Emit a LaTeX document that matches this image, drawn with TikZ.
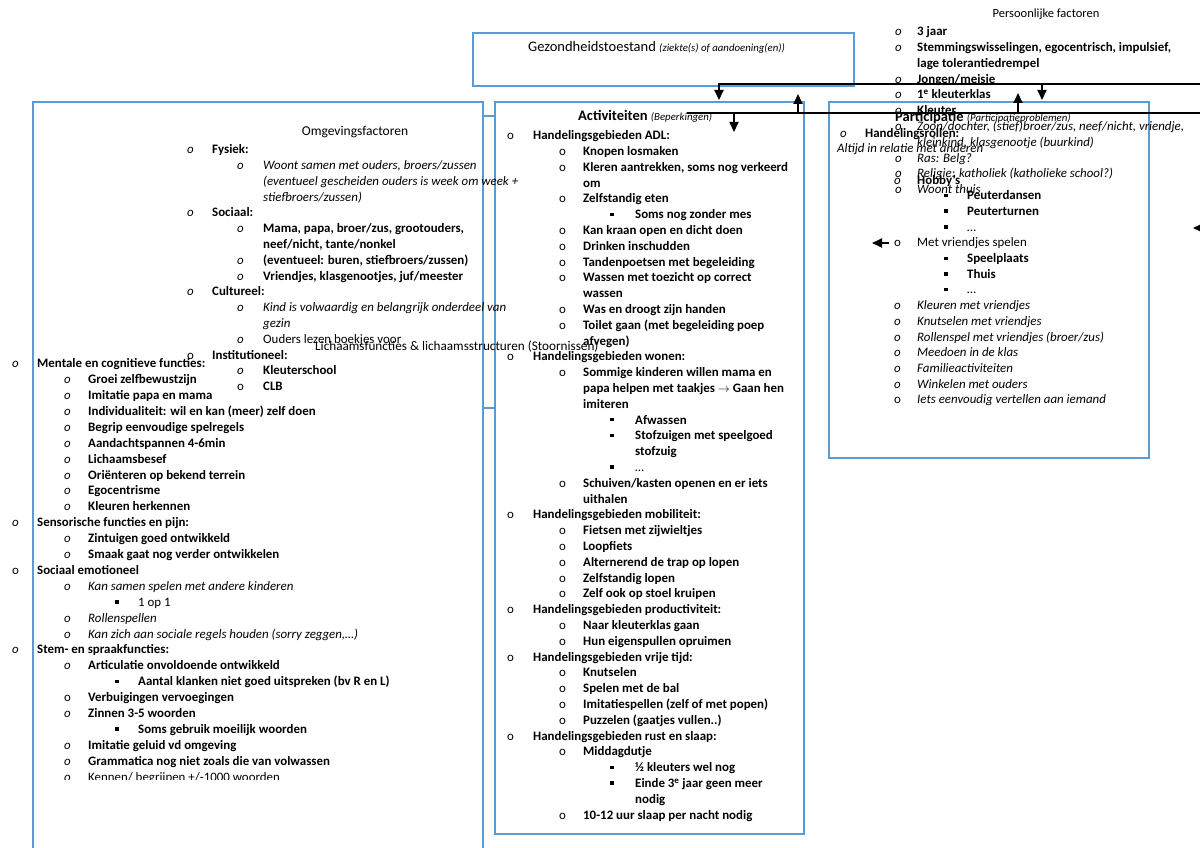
\documentclass[tikz,border=0pt]{standalone}
\usepackage{fontspec}
\setmainfont{Carlito}
\usetikzlibrary{arrows.meta,positioning}
\definecolor{boxblue}{HTML}{5B9BD5}
% one list line: bullet at #1, text at #2
\newcommand{\litem}[4]{\hspace*{#1pt}\rlap{#3}\hspace*{\dimexpr #2pt-#1pt\relax}#4\strut}
\newcommand{\lcont}[2]{\hspace*{#1pt}#2\strut}
\newcommand{\bo}{{\mdseries\itshape o}}
\newcommand{\bu}{{\mdseries o}}
\newcommand{\bsq}{\rule[2.6pt]{3.4pt}{3.4pt}}
\newcommand{\lgt}[1]{{\mdseries\itshape #1}}
\newcommand{\rgl}[1]{{\mdseries #1}}
\newcommand{\sub}[1]{{\mdseries\itshape\fontsize{10.8}{12}\selectfont #1}}

\begin{document}
\begin{tikzpicture}[x=1pt,y=-1pt]
\tikzset{bx/.style={draw=boxblue, line width=2pt, anchor=north west, inner sep=0pt}}
\tikzset{lst/.style={align=left, anchor=north west, inner sep=0pt, font=\fontsize{12.9}{15.8}\selectfont\bfseries}}
\tikzset{ttl/.style={inner sep=0pt, anchor=base west, font=\fontsize{14.5}{17}\selectfont}}
\tikzset{ln/.style={draw=black, line width=1.8pt}}
\tikzset{ar/.style={ln, -{Triangle[length=10pt,width=9pt]}}}

\useasboundingbox (0,0) rectangle (1200,848);
\clip (0,0) rectangle (1200,848);

% boxes
\node [bx, minimum width=381pt, minimum height=53pt] (gez) at (472,32) {};
\node [bx, minimum width=450pt, minimum height=780pt] (omg) at (32,101) {};
\node [bx, minimum width=309pt, minimum height=732pt] (act) at (494,101) {};
\node [bx, minimum width=320pt, minimum height=356pt] (par) at (828,101) {};
\draw [boxblue, line width=2pt] ([yshift=-15pt]omg.north east) -- ([yshift=-15pt]act.north west);
\draw [boxblue, line width=2pt] ([yshift=-307pt]omg.north east) -- ([yshift=-307pt]act.north west);

% titles
\node [ttl] (gezt) at (528,52) {Gezondheidstoestand \sub{(ziekte(s) of aandoening(en))}};
\node [ttl, anchor=base, font=\fontsize{13.5}{16}\selectfont] (omgt) at (355,136) {Omgevingsfactoren};
\node [ttl, font=\fontsize{13.2}{15}\selectfont] (licht) at (315,350.5) {Lichaamsfuncties \& lichaamsstructuren (Stoornissen)};
\node [ttl] (actt) at (578,121) {\bfseries Activiteiten \sub{(Beperkingen)}};
\node [ttl] (part) at (895,122) {\bfseries Participatie \sub{(Participatieproblemen)}};
\node [ttl, anchor=base, font=\fontsize{12.5}{15}\selectfont] (perst) at (1046,17.5) {Persoonlijke factoren};

% omgevingsfactoren
\node [lst] (omgl) at (187,142.4) {
\litem{0}{25}{\bo}{Fysiek:}\\
\litem{50}{76}{\bo}{\lgt{Woont samen met ouders, broers/zussen}}\\
\lcont{76}{\lgt{(eventueel gescheiden ouders is week om week +}}\\
\lcont{76}{\lgt{stiefbroers/zussen)}}\\
\litem{0}{25}{\bo}{Sociaal:}\\
\litem{50}{76}{\bo}{Mama, papa, broer/zus, grootouders,}\\
\lcont{76}{neef/nicht, tante/nonkel}\\
\litem{50}{76}{\bo}{(eventueel: buren, stiefbroers/zussen)}\\
\litem{50}{76}{\bo}{Vriendjes, klasgenootjes, juf/meester}\\
\litem{0}{25}{\bo}{Cultureel:}\\
\litem{50}{76}{\bo}{\lgt{Kind is volwaardig en belangrijk onderdeel van}}\\
\lcont{76}{\lgt{gezin}}\\
\litem{50}{76}{\bo}{\rgl{Ouders lezen boekjes voor}}\\
\litem{0}{25}{\bu}{Institutioneel:}\\
\litem{50}{76}{\bo}{Kleuterschool}\\
\litem{50}{76}{\bu}{CLB}};

% lichaamsfuncties
\begin{scope}
\clip (0,0) rectangle (1200,779);
\node [lst, font=\fontsize{12.9}{15.9}\selectfont\bfseries] (lichl) at (12,356.4) {
\litem{0}{25}{\bo}{Mentale en cognitieve functies:}\\
\litem{52}{76}{\bo}{Groei zelfbewustzijn}\\
\litem{52}{76}{\bo}{Imitatie papa en mama}\\
\litem{52}{76}{\bo}{Individualiteit: wil en kan (meer) zelf doen}\\
\litem{52}{76}{\bo}{Begrip eenvoudige spelregels}\\
\litem{52}{76}{\bo}{Aandachtspannen 4-6min}\\
\litem{52}{76}{\bo}{Lichaamsbesef}\\
\litem{52}{76}{\bo}{Oriënteren op bekend terrein}\\
\litem{52}{76}{\bo}{Egocentrisme}\\
\litem{52}{76}{\bo}{Kleuren herkennen}\\
\litem{0}{25}{\bo}{Sensorische functies en pijn:}\\
\litem{52}{76}{\bo}{Zintuigen goed ontwikkeld}\\
\litem{52}{76}{\bo}{Smaak gaat nog verder ontwikkelen}\\
\litem{0}{25}{\bu}{Sociaal emotioneel}\\
\litem{52}{76}{\bo}{\lgt{Kan samen spelen met andere kinderen}}\\
\litem{103}{126}{\bsq}{\rgl{1 op 1}}\\
\litem{52}{76}{\bo}{\lgt{Rollenspellen}}\\
\litem{52}{76}{\bo}{\lgt{Kan zich aan sociale regels houden (sorry zeggen,\dots)}}\\
\litem{0}{25}{\bo}{Stem- en spraakfuncties:}\\
\litem{52}{76}{\bo}{Articulatie onvoldoende ontwikkeld}\\
\litem{103}{126}{\bsq}{Aantal klanken niet goed uitspreken (bv R en L)}\\
\litem{52}{76}{\bu}{Verbuigingen vervoegingen}\\
\litem{52}{76}{\bo}{Zinnen 3-5 woorden}\\
\litem{103}{126}{\bsq}{Soms gebruik moeilijk woorden}\\
\litem{52}{76}{\bo}{Imitatie geluid vd omgeving}\\
\litem{52}{76}{\bo}{Grammatica nog niet zoals die van volwassen}\\
\litem{52}{76}{\bo}{\rgl{Kennen/ begrijpen +/-1000 woorden}}};
\end{scope}

% activiteiten
\node [lst] (actl) at (507,128.4) {
\litem{0}{26}{\bu}{Handelingsgebieden ADL:}\\
\litem{52}{76}{\bu}{Knopen losmaken}\\
\litem{52}{76}{\bu}{Kleren aantrekken, soms nog verkeerd}\\
\lcont{76}{om}\\
\litem{52}{76}{\bu}{Zelfstandig eten}\\
\litem{103}{128}{\bsq}{Soms nog zonder mes}\\
\litem{52}{76}{\bu}{Kan kraan open en dicht doen}\\
\litem{52}{76}{\bu}{Drinken inschudden}\\
\litem{52}{76}{\bu}{Tandenpoetsen met begeleiding}\\
\litem{52}{76}{\bu}{Wassen met toezicht op correct}\\
\lcont{76}{wassen}\\
\litem{52}{76}{\bu}{Was en droogt zijn handen}\\
\litem{52}{76}{\bu}{Toilet gaan (met begeleiding poep}\\
\lcont{76}{afvegen)}\\
\litem{0}{26}{\bu}{Handelingsgebieden wonen:}\\
\litem{52}{76}{\bu}{Sommige kinderen willen mama en}\\
\lcont{76}{papa helpen met taakjes $\rightarrow$ Gaan hen}\\
\lcont{76}{imiteren}\\
\litem{103}{128}{\bsq}{Afwassen}\\
\litem{103}{128}{\bsq}{Stofzuigen met speelgoed}\\
\lcont{128}{stofzuig}\\
\litem{103}{128}{\bsq}{\rgl{\dots}}\\
\litem{52}{76}{\bu}{Schuiven/kasten openen en er iets}\\
\lcont{76}{uithalen}\\
\litem{0}{26}{\bu}{Handelingsgebieden mobiliteit:}\\
\litem{52}{76}{\bu}{Fietsen met zijwieltjes}\\
\litem{52}{76}{\bu}{Loopfiets}\\
\litem{52}{76}{\bu}{Alternerend de trap op lopen}\\
\litem{52}{76}{\bu}{Zelfstandig lopen}\\
\litem{52}{76}{\bu}{Zelf ook op stoel kruipen}\\
\litem{0}{26}{\bu}{Handelingsgebieden productiviteit:}\\
\litem{52}{76}{\bu}{Naar kleuterklas gaan}\\
\litem{52}{76}{\bu}{Hun eigenspullen opruimen}\\
\litem{0}{26}{\bu}{Handelingsgebieden vrije tijd:}\\
\litem{52}{76}{\bu}{Knutselen}\\
\litem{52}{76}{\bu}{Spelen met de bal}\\
\litem{52}{76}{\bu}{Imitatiespellen (zelf of met popen)}\\
\litem{52}{76}{\bu}{Puzzelen (gaatjes vullen..)}\\
\litem{0}{26}{\bu}{Handelingsgebieden rust en slaap:}\\
\litem{52}{76}{\bu}{Middagdutje}\\
\litem{103}{128}{\bsq}{½ kleuters wel nog}\\
\litem{103}{128}{\bsq}{Einde 3\textsuperscript{e} jaar geen meer}\\
\lcont{128}{nodig}\\
\litem{52}{76}{\bu}{10-12 uur slaap per nacht nodig}};

% persoonlijke factoren
\node [lst] (persl) at (895,24.4) {
\litem{0}{22}{\bo}{3 jaar}\\
\litem{0}{22}{\bo}{Stemmingswisselingen, egocentrisch, impulsief,}\\
\lcont{22}{lage tolerantiedrempel}\\
\litem{0}{22}{\bo}{Jongen/meisje}\\
\litem{0}{22}{\bo}{1\textsuperscript{e} kleuterklas}\\
\litem{0}{22}{\bo}{Kleuter}\\
\litem{0}{22}{\bo}{\lgt{Zoon/dochter, (stief)broer/zus, neef/nicht, vriendje,}}\\
\lcont{22}{\lgt{kleinkind, klasgenootje (buurkind)}}\\
\litem{0}{22}{\bo}{\lgt{Ras: Belg?}}\\
\litem{0}{22}{\bo}{\lgt{Religie: katholiek (katholieke school?)}}\\
\litem{0}{22}{\bo}{\lgt{Woont thuis}}};

% participatie
\node [lst, anchor=base west] (rol) at (840,137.5) {\litem{0}{25}{\bo}{Handelingsrollen:}};
\node [lst, anchor=base west] (rolx) at (837,152.5) {\lgt{Altijd in relatie met anderen}};
\node [lst, font=\fontsize{12.9}{15.7}\selectfont\bfseries] (parl) at (894,172.9) {
\litem{0}{23}{\bo}{Hobby's}\\
\litem{50}{73}{\bsq}{Peuterdansen}\\
\litem{50}{73}{\bsq}{Peuterturnen}\\
\litem{50}{73}{\bsq}{\rgl{\dots}}\\
\litem{0}{23}{\bu}{\rgl{Met vriendjes spelen}}\\
\litem{50}{73}{\bsq}{Speelplaats}\\
\litem{50}{73}{\bsq}{Thuis}\\
\litem{50}{73}{\bsq}{\rgl{\dots}}\\
\litem{0}{23}{\bo}{\lgt{Kleuren met vriendjes}}\\
\litem{0}{23}{\bo}{\lgt{Knutselen met vriendjes}}\\
\litem{0}{23}{\bo}{\lgt{Rollenspel met vriendjes (broer/zus)}}\\
\litem{0}{23}{\bo}{\lgt{Meedoen in de klas}}\\
\litem{0}{23}{\bo}{\lgt{Familieactiviteiten}}\\
\litem{0}{23}{\bo}{\lgt{Winkelen met ouders}}\\
\litem{0}{23}{\bu}{\lgt{Iets eenvoudig vertellen aan iemand}}};

% connectors
\coordinate (e1) at (1200,84);
\coordinate (e2) at (1200,113);
\coordinate (s2) at (687,113);
\coordinate (d1) at (719,100);
\coordinate (d2t) at (1042,84);
\coordinate (d2) at (1042,100);
\coordinate (d3t) at (734,113);
\coordinate (d3) at (734,132);
\coordinate (u1t) at (798,113);
\coordinate (u1) at (798,94);
\coordinate (u2t) at (1018,113);
\coordinate (u2) at (1018,93);
\coordinate (e3) at (1202,228);
\coordinate (p3) at (1193,228);
\coordinate (v1) at (889,243);
\coordinate (v2) at (872,243);
\draw [ar] (e1) -| (d1);
\draw [ln] (s2) -- (e2);
\draw [ar] (d2t) -- (d2);
\draw [ar] (d3t) -- (d3);
\draw [ar] (u1t) -- (u1);
\draw [ar] (u2t) -- (u2);
\draw [ar] (e3) -- (p3);
\draw [ar] (v1) -- (v2);

\end{tikzpicture}
\end{document}
